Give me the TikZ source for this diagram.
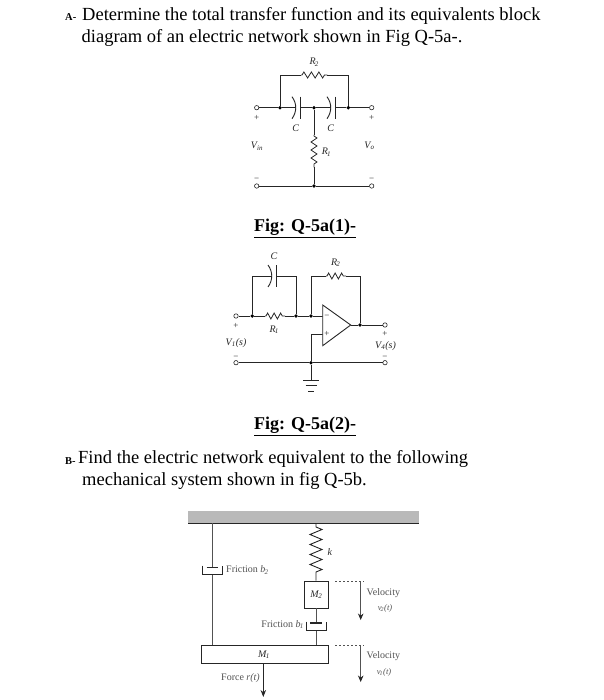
\documentclass[tikz,border=0pt]{standalone}
\usepackage{fontspec}
\setmainfont{Liberation Serif}
\usetikzlibrary{arrows.meta,decorations.pathmorphing,calc}
\definecolor{ink}{gray}{0.15}
\definecolor{soft}{gray}{0.32}
\newcommand\lbsub[2]{\textit{#1}\kern-0.8pt\textsubscript{\textit{#2}}}
\tikzset{
  x=1pt,y=-1pt,
  wire/.style={draw=ink,line width=0.75pt},
  plate/.style={draw=ink,line width=0.9pt},
  resist/.style={draw=ink,line width=0.8pt,decorate,decoration={zigzag,segment length=7.5pt,amplitude=3pt,pre length=1pt,post length=1pt}},
  coil/.style={draw=ink,line width=0.9pt,decorate,decoration={zigzag,segment length=10pt,amplitude=6pt,pre length=4pt,post length=4pt}},
  term/.style={circle,draw=ink,fill=white,line width=0.6pt,inner sep=0pt,minimum size=4.4pt},
  dot/.style={circle,fill=black,inner sep=0pt,minimum size=3.8pt},
  head/.style={anchor=base west,inner sep=0pt,font=\fontsize{18.5}{19}\selectfont,text=black},
  tag/.style={anchor=base west,inner sep=0pt,font=\fontsize{10.5}{11}\selectfont\bfseries,text=black},
  figcap/.style={anchor=base west,inner sep=0pt,font=\fontsize{18}{18}\selectfont\bfseries,text=black},
  lab/.style={inner sep=0pt,font=\fontsize{10}{10}\selectfont,text=ink},
  sign/.style={inner sep=0pt,font=\fontsize{9}{9}\selectfont,text=ink},
  mech/.style={inner sep=0pt,font=\fontsize{10}{10}\selectfont,text=soft},
  box/.style={draw=ink,fill=white,line width=0.9pt,inner sep=0pt},
  rod/.style={draw=soft,line width=0.9pt},
  cup/.style={draw=ink,line width=0.9pt},
  vel/.style={draw=soft,line width=0.7pt,-{Stealth[length=6.5pt,width=5.5pt,color=ink]}},
  dashline/.style={draw=soft,line width=0.6pt,dash pattern=on 2pt off 2pt}
}
\begin{document}
\begin{tikzpicture}
\useasboundingbox (0,0) rectangle (603,700);
\fill[white] (0,0) rectangle (603,700);
% text
\node[tag] (tA) at (65,21) {A-};
\node[head] (l1) at (82,21) {Determine the total transfer function and its equivalents block};
\node[head] (l2) at (81.5,42.5) {diagram of an electric network shown in Fig Q-5a-.};
\node[figcap] (f1) at (254,232) {\underline{Fig: Q-5a(1)-}};
\node[figcap] (f2) at (254,429.5) {\underline{Fig: Q-5a(2)-}};
\node[tag] (tB) at (65,464) {B-};
\node[head] (l3) at (78,463.5) {Find the electric network equivalent to the following};
\node[head] (l4) at (82,485) {mechanical system shown in fig Q-5b.};

% circuit 1
\node[term] (a1) at (256.7,107.7) {};
\node[dot] (a2) at (280,107.7) {};
\node[dot] (a3) at (314,107.7) {};
\node[dot] (a4) at (348.3,107.7) {};
\node[term] (a5) at (371.7,107.7) {};
\node[term] (b1) at (256.7,186) {};
\node[dot] (b3) at (314,186) {};
\node[term] (b5) at (371.7,186) {};
\coordinate (t2) at (280,75);
\coordinate (t4) at (348.3,75);
\coordinate (r2a) at (301,75);
\coordinate (r2b) at (327.3,75);
\coordinate (r1a) at (314,135);
\coordinate (r1b) at (314,167.3);
\coordinate (c1l) at (296,107.7);
\coordinate (c1r) at (300,107.7);
\coordinate (c2l) at (331,107.7);
\coordinate (c2r) at (335,107.7);
\draw[wire] (a1) -- (a2) -- (c1l);
\draw[wire] (c1r) -- (a3) -- (c2l);
\draw[wire] (c2r) -- (a4) -- (a5);
\draw[wire] (a2) -- (t2) -- (r2a);
\draw[wire] (r2b) -- (t4) -- (a4);
\draw[resist] (r2a) -- (r2b);
\draw[wire] (a3) -- (r1a);
\draw[resist,decoration={segment length=8pt}] (r1a) -- (r1b);
\draw[wire] (r1b) -- (b3);
\draw[wire] (b1) -- (b3) -- (b5);
\draw[plate] ($(c1r)+(0,-11)$) -- ($(c1r)+(0,11)$);
\draw[plate] ($(c1l)+(-4,-11)$) .. controls ($(c1l)+(1,-4)$) and ($(c1l)+(1,4)$) .. ($(c1l)+(-4,11)$);
\draw[plate] ($(c2r)+(0,-11)$) -- ($(c2r)+(0,11)$);
\draw[plate] ($(c2l)+(-4,-11)$) .. controls ($(c2l)+(1,-4)$) and ($(c2l)+(1,4)$) .. ($(c2l)+(-4,11)$);
\node[lab] (lr2) at (314.3,62.3) {\lbsub{R}{2}};
\node[lab] (lc1) at (295.7,128) {\textit{C}};
\node[lab] (lc2) at (330.7,128) {\textit{C}};
\node[lab] (lr1) at (326.5,152) {\lbsub{R}{1}};
\node[lab] (lvi) at (257,146) {\lbsub{V}{in}};
\node[lab] (lvo) at (369.5,146) {\lbsub{V}{o}};
\node[sign] (p1) at (256.7,118) {+};
\node[sign] (p2) at (371.7,118) {+};
\node[sign] (m1) at (256.7,179.5) {\textminus};
\node[sign] (m2) at (371.7,179.5) {\textminus};

% circuit 2
\node[term] (c1) at (236,316) {};
\node[dot] (c2) at (252.3,316) {};
\node[dot] (c3) at (296,316) {};
\node[dot] (c4) at (311,316) {};
\coordinate (oL) at (322.7,316);
\coordinate (pL) at (322.7,334);
\coordinate (oT) at (350.7,325);
\node[dot] (c6) at (360,325) {};
\node[term] (c7) at (385,325) {};
\node[term] (d1) at (236,362.7) {};
\node[dot] (d3) at (311,362.7) {};
\node[term] (d7) at (385,362.7) {};
\coordinate (u2) at (252.3,276);
\coordinate (u3) at (296,276);
\coordinate (u4) at (311,276);
\coordinate (u6) at (360,276);
\coordinate (cl) at (272,276);
\coordinate (cr) at (276.7,276);
\coordinate (ra) at (265,316);
\coordinate (rb) at (285,316);
\coordinate (sa) at (326,276);
\coordinate (sb) at (346,276);
\coordinate (pin) at (311,334);
\coordinate (g0) at (311,380);
\coordinate (g1) at (311,385.3);
\coordinate (g2) at (311,391);
\draw[wire] (c1) -- (c2) -- (ra);
\draw[resist,decoration={segment length=6.5pt}] (ra) -- (rb);
\draw[wire] (rb) -- (c3) -- (c4) -- (oL);
\draw[wire] (c2) -- (u2) -- (cl);
\draw[wire] (cr) -- (u3) -- (c3);
\draw[wire] (c4) -- (u4) -- (sa);
\draw[resist,decoration={segment length=6.5pt}] (sa) -- (sb);
\draw[wire] (sb) -- (u6) -- (c6);
\draw[wire] (oT) -- (c6) -- (c7);
\draw[wire] (pL) -- (pin) -- (d3);
\draw[wire] (d1) -- (d3) -- (d7);
\draw[wire] (d3) -- (g0);
\draw[draw=ink,fill=white,line width=0.9pt] (322.7,305) -- (350.7,325) -- (322.7,345.7) -- cycle;
\draw[plate] ($(cr)+(0,-11)$) -- ($(cr)+(0,11)$);
\draw[plate] ($(cl)+(-4,-11)$) .. controls ($(cl)+(1,-4)$) and ($(cl)+(1,4)$) .. ($(cl)+(-4,11)$);
\draw[plate] ($(g0)+(-8,0)$) -- ($(g0)+(8,0)$);
\draw[plate] ($(g1)+(-5.5,0)$) -- ($(g1)+(5.5,0)$);
\draw[plate] ($(g2)+(-3,0)$) -- ($(g2)+(3,0)$);
\node[lab] (lc) at (274,256.7) {\textit{C}};
\node[lab] (lr22) at (335.7,262.5) {\lbsub{R}{2}};
\node[lab] (lr11) at (274.3,329.5) {\lbsub{R}{1}};
\node[lab] (lv1) at (236,343) {\lbsub{V}{1}\textit{(s)}};
\node[lab] (lv2) at (385.5,346) {\lbsub{V}{4}\textit{(s)}};
\node[sign] (q1) at (236,326) {+};
\node[sign] (q2) at (385,334) {+};
\node[sign] (q3) at (236,358) {\textminus};
\node[sign] (q4) at (385,358) {\textminus};
\node[sign] (q5) at (327,316.5) {\textminus};
\node[sign] (q6) at (327,334) {+};

% mechanical
\fill[gray!55] (188,510.7) rectangle (419,523);
\coordinate (ceilA) at (212.3,523);
\coordinate (ceilB) at (316,523);
\draw[draw=ink,line width=1.2pt] (188,523.3) -- (419,523.3);
\node[box,minimum width=24pt,minimum height=27pt] (M2) at (316.3,594.5) {};
\node[lab] (lM2) at (316.3,594.5) {\lbsub{M}{2}};
\node[box,minimum width=127.3pt,minimum height=18.3pt] (M1) at (264.6,654.2) {};
\node[lab] (lM1) at (264,654.5) {\lbsub{M}{1}};
% b2 dashpot
\coordinate (b2p) at (212.3,567.7);
\coordinate (b2c) at (212.3,574.7);
\draw[rod] (ceilA) -- (b2p);
\draw[rod] (b2c) -- (212.3,645);
\draw[cup] (202.7,565.7) -- (202.7,574.7) -- (222.3,574.7) -- (222.3,565.7);
\draw[cup,line width=1.1pt] (206.7,567.7) -- (218.3,567.7);
% spring
\draw[coil] (ceilB) -- (M2.north -| ceilB);
% b1 dashpot
\coordinate (b1p) at (316,623);
\coordinate (b1c) at (316,630.7);
\draw[rod] (M2.south -| b1p) -- (b1p);
\draw[rod] (b1c) -- (M1.north -| b1c);
\draw[cup] (306.7,621.7) -- (306.7,630.7) -- (326.7,630.7) -- (326.7,621.7);
\draw[cup,line width=1.1pt] (310,623) -- (321.7,623);
% force
\coordinate (fe) at (263.3,697);
\draw[draw=ink,line width=0.9pt,-{Stealth[length=7pt,width=5.5pt]}] (M1.south -| fe) -- (fe);
% velocities
\coordinate (v2a) at (335,581);
\coordinate (v2b) at (364,581);
\coordinate (v2t) at (360.7,581);
\coordinate (v2e) at (360.7,620);
\coordinate (v1a) at (335,645);
\coordinate (v1b) at (364,645);
\coordinate (v1t) at (360.7,645);
\coordinate (v1e) at (360.7,682);
\draw[dashline] (v2a) -- (v2b);
\draw[dashline] (v1a) -- (v1b);
\draw[vel] (v2t) -- (v2e);
\draw[vel] (v1t) -- (v1e);
\node[mech,anchor=west] (tb2) at (226,570) {Friction \lbsub{b}{2}};
\node[mech,anchor=east] (tb1) at (304,624.5) {Friction \lbsub{b}{1}};
\node[lab] (tk) at (330,552.5) {\textit{k}};
\node[mech,anchor=west] (tv2) at (366.5,593) {Velocity};
\node[mech,font=\fontsize{8.5}{9}\selectfont] (tv2b) at (385,608.5) {\lbsub{v}{2}\textit{(t)}};
\node[mech,anchor=west] (tv1) at (366.5,656) {Velocity};
\node[mech,font=\fontsize{8.5}{9}\selectfont] (tv1b) at (384,672.5) {\lbsub{v}{1}\textit{(t)}};
\node[mech,anchor=east] (tf) at (260,678) {Force \textit{r(t)}};
\end{tikzpicture}
\end{document}
